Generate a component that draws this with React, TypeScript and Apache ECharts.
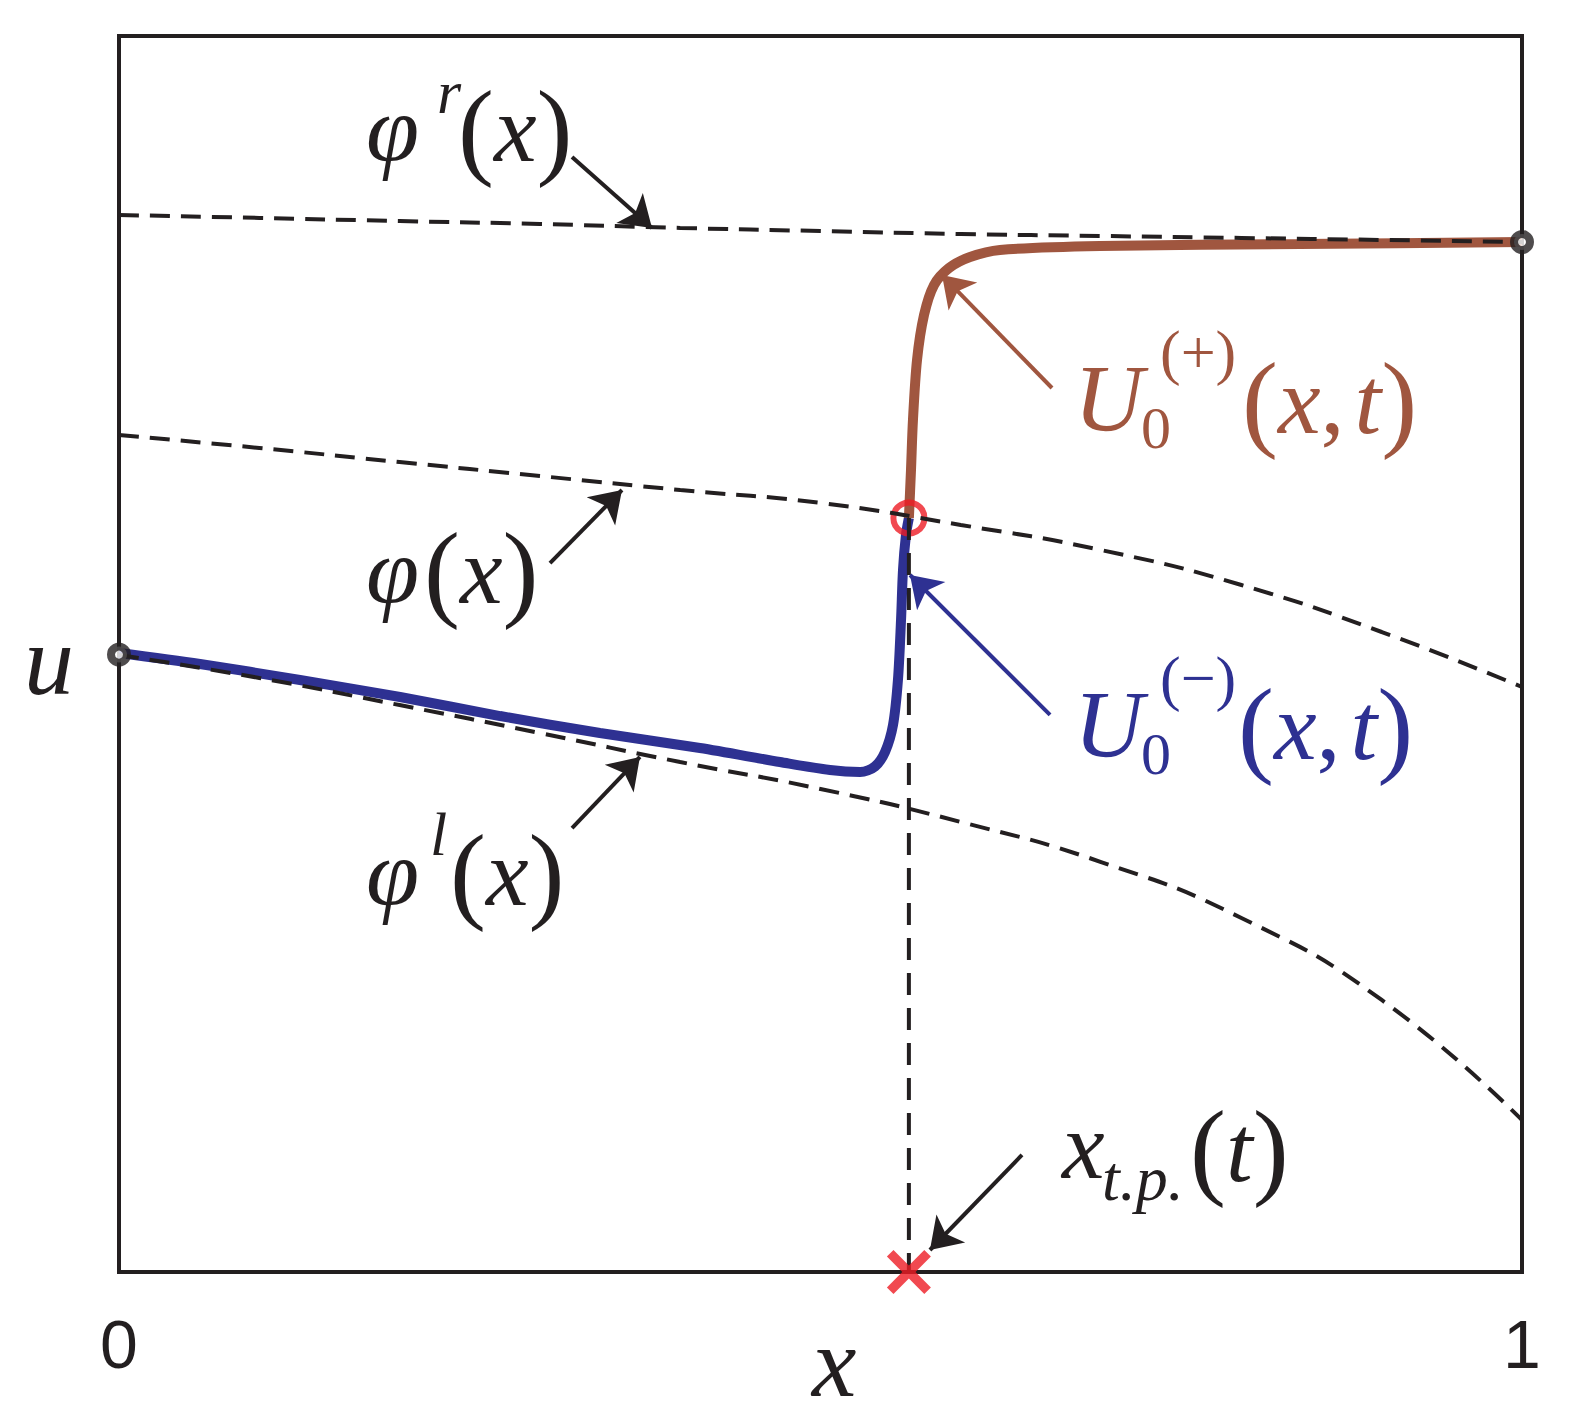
import React, { useEffect, useRef } from "react";
import * as echarts from "echarts";

// x positions for the dashed reference curves
const refX = [0, 0.1, 0.2, 0.3, 0.4, 0.5, 0.6, 0.7, 0.8, 0.9, 1];
const phiR = [85.52, 85.28, 85.03, 84.79, 84.47, 84.22, 83.98, 83.82, 83.66, 83.5, 83.33];
const phiMid = [67.72, 66.67, 65.53, 64.4, 63.27, 62.22, 60.44, 58.41, 55.58, 51.78, 47.33];
const phiL = [49.92, 48.06, 45.87, 43.61, 41.26, 39.08, 36.41, 33.17, 28.64, 22.01, 12.3];

// U0(-) branch
const uMinusX = [0, 0.0577, 0.129, 0.2003, 0.2716, 0.3428, 0.4141, 0.4711, 0.5068, 0.5282, 0.5388, 0.546, 0.5517, 0.5552, 0.5574, 0.5588, 0.5609, 0.563];
const uMinusY = [50.08, 49.19, 47.9, 46.52, 44.98, 43.61, 42.39, 41.26, 40.61, 40.45, 40.9, 42.07, 44.26, 47.9, 52.75, 56.8, 59.63, 61.0];

// U0(+) branch
const uPlusX = [0.563, 0.5645, 0.5659, 0.5688, 0.5738, 0.5809, 0.5916, 0.6066, 0.6279, 0.6992, 0.8417, 1];
const uPlusY = [61.0, 64.89, 68.93, 73.79, 77.43, 79.85, 81.23, 82.12, 82.69, 83.01, 83.17, 83.33];

// transition point
const tpX = 0.563;
const tpY = 61.0;
const startPoint = [0, 49.95];
const endPoint = [1, 83.33];

// arrows: [fromX, fromY, toX, toY]
const arrowPhiR = [0.3229, 90.21, 0.3799, 84.47];
const arrowPhi = [0.3072, 57.36, 0.3585, 63.27];
const arrowPhiL = [0.3229, 35.92, 0.3713, 41.67];
const arrowUPlus = [0.665, 71.52, 0.5866, 80.66];
const arrowUMinus = [0.6636, 45.07, 0.5638, 56.39];
const arrowTp = [0.6436, 9.47, 0.578, 1.78];

const xTicks = [0, 1];

const BLACK = "#231f20";
const BLUE = "#2e3192";
const BROWN = "#a0563f";
const RED = "#ed1c24";

const SERIF = "Liberation Serif";
const MAIN = 96;

function zip(xs: number[], ys: number[]) {
  return xs.map((x, i) => [x, ys[i]]);
}

function arrow(a: number[], color: string) {
  return {
    type: "lines",
    coordinateSystem: "cartesian2d",
    symbol: ["none", "arrow"],
    symbolSize: [0, 30],
    lineStyle: { width: 4, color, opacity: 1, curveness: 0 },
    data: [{ coords: [[a[0], a[1]], [a[2], a[3]]] }],
    z: 6,
    silent: true,
  };
}

function richMain(color: string) {
  return {
    i: { fontFamily: SERIF, fontStyle: "italic", fontSize: MAIN, fill: color },
    p: { fontFamily: SERIF, fontSize: 108, fill: color },
    n: { fontFamily: SERIF, fontSize: MAIN, fill: color },
    s: { width: 10 },
  };
}

function txt(x: number, y: number, text: string, color: string, size: number, italic: boolean) {
  return {
    type: "text",
    x,
    y,
    z: 100,
    style: {
      text,
      fill: color,
      fontFamily: SERIF,
      fontSize: size,
      fontStyle: italic ? "italic" : "normal",
      align: "left",
      verticalAlign: "middle",
    },
  };
}

function richTxt(x: number, y: number, text: string, color: string) {
  return {
    type: "text",
    x,
    y,
    z: 100,
    style: {
      text,
      rich: richMain(color),
      fill: color,
      fontFamily: SERIF,
      fontSize: MAIN,
      align: "left",
      verticalAlign: "middle",
    },
  };
}

export default function App() {
  const ref = useRef<HTMLDivElement>(null);
  useEffect(() => {
    if (!ref.current) return;
    const chart = echarts.init(ref.current, null, { renderer: "svg" });
    const dashed = (data: number[][], name: string) => ({
      type: "line",
      name,
      data,
      smooth: true,
      showSymbol: false,
      symbol: "none",
      lineStyle: { color: BLACK, width: 4, type: [20, 11] },
      z: 3,
      silent: true,
    });
    const option: any = {
      animation: false,
      backgroundColor: "#ffffff",
      grid: {
        left: 119,
        top: 36,
        width: 1403,
        height: 1236,
        show: true,
        borderColor: BLACK,
        borderWidth: 4,
        backgroundColor: "transparent",
      },
      xAxis: {
        type: "value",
        min: xTicks[0],
        max: xTicks[1],
        interval: 1,
        axisLine: { show: false },
        axisTick: { show: false },
        splitLine: { show: false },
        axisLabel: {
          color: BLACK,
          fontSize: 68,
          fontFamily: "Liberation Sans",
          margin: 38,
        },
      },
      yAxis: {
        type: "value",
        min: 0,
        max: 100,
        axisLine: { show: false },
        axisTick: { show: false },
        splitLine: { show: false },
        axisLabel: { show: false },
      },
      series: [
        {
          type: "line",
          name: "U0-",
          data: zip(uMinusX, uMinusY),
          smooth: 0.3,
          showSymbol: false,
          symbol: "none",
          lineStyle: { color: BLUE, width: 10 },
          z: 2,
          silent: true,
        },
        {
          type: "line",
          name: "U0+",
          data: zip(uPlusX, uPlusY),
          smooth: 0.3,
          showSymbol: false,
          symbol: "none",
          lineStyle: { color: BROWN, width: 10 },
          z: 2,
          silent: true,
        },
        {
          type: "scatter",
          data: [[tpX, tpY]],
          symbol: "circle",
          symbolSize: 31,
          itemStyle: { color: "rgba(0,0,0,0)", borderColor: RED, borderWidth: 6 },
          z: 2,
          silent: true,
        },
        dashed(zip(refX, phiR), "phi_r"),
        dashed(zip(refX, phiMid), "phi"),
        dashed(zip(refX, phiL), "phi_l"),
        {
          type: "line",
          name: "tp-vertical",
          data: [[tpX, tpY], [tpX, 0]],
          showSymbol: false,
          symbol: "none",
          lineStyle: { color: BLACK, width: 4, type: [22, 13] },
          z: 4,
          silent: true,
        },
        {
          type: "scatter",
          data: [startPoint, endPoint],
          symbol: "circle",
          symbolSize: 16,
          itemStyle: { color: "#ffffff", borderColor: BLACK, borderWidth: 8 },
          z: 7,
          silent: true,
        },
        {
          type: "scatter",
          data: [[tpX, 0]],
          symbol:
            "path://M3,0 L10,7 L17,0 L20,3 L13,10 L20,17 L17,20 L10,13 L3,20 L0,17 L7,10 L0,3 Z",
          symbolSize: 44,
          itemStyle: { color: RED },
          z: 8,
          silent: true,
        },
        arrow(arrowPhiR, BLACK),
        arrow(arrowPhi, BLACK),
        arrow(arrowPhiL, BLACK),
        arrow(arrowUPlus, BROWN),
        arrow(arrowUMinus, BLUE),
        arrow(arrowTp, BLACK),
      ],
      graphic: [
        // φ^r(x)
        txt(366, 128, "φ", BLACK, MAIN, true),
        txt(437, 92, "r", BLACK, 62, true),
        richTxt(458, 128, "{p|(}{i|x}{p|)}", BLACK),
        // φ(x)
        txt(366, 570, "φ", BLACK, MAIN, true),
        richTxt(424, 570, "{p|(}{i|x}{p|)}", BLACK),
        // φ^l(x)
        txt(366, 872, "φ", BLACK, MAIN, true),
        txt(430, 834, "l", BLACK, 62, true),
        richTxt(450, 872, "{p|(}{i|x}{p|)}", BLACK),
        // U0(+)(x,t)
        txt(1074, 398, "U", BROWN, MAIN, true),
        txt(1141, 428, "0", BROWN, 60, false),
        txt(1160, 352, "(+)", BROWN, 62, false),
        richTxt(1242, 400, "{p|(}{i|x}{n|,}{s|}{i|t}{p|)}", BROWN),
        // U0(-)(x,t)
        txt(1074, 724, "U", BLUE, MAIN, true),
        txt(1141, 754, "0", BLUE, 60, false),
        txt(1160, 678, "(\u2212)", BLUE, 62, false),
        richTxt(1238, 726, "{p|(}{i|x}{n|,}{s|}{i|t}{p|)}", BLUE),
        // x_{t.p.}(t)
        txt(1062, 1145, "x", BLACK, MAIN, true),
        txt(1102, 1178, "t.p.", BLACK, 64, true),
        richTxt(1190, 1148, "{p|(}{i|t}{p|)}", BLACK),
        // axis names
        txt(24, 660, "u", BLACK, 100, true),
        txt(812, 1362, "x", BLACK, 100, true),
      ],
    };
    chart.setOption(option);
    return () => chart.dispose();
  }, []);
  return (
    <div
      ref={ref}
      style={{ position: "absolute", left: 0, top: 0, width: 1575, height: 1419, background: "#fff" }}
    />
  );
}
